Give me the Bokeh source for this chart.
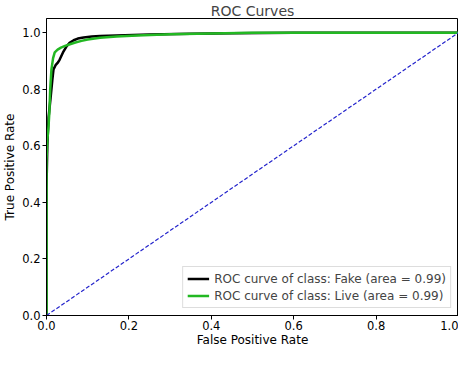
from bokeh.plotting import figure
from bokeh.models import Range1d, Legend, LegendItem, FixedTicker, NumeralTickFormatter
from bokeh.embed import file_html
from bokeh.resources import INLINE

# Fake class ROC (black)
fake_fpr = [0.0, 0.0, 0.002, 0.005, 0.010, 0.014, 0.017, 0.022, 0.028, 0.032, 0.040, 0.048,
            0.056, 0.066, 0.076, 0.090, 0.110, 0.130, 0.170, 0.250, 0.350, 0.450, 0.600, 1.0]
fake_tpr = [0.0, 0.45, 0.60, 0.70, 0.77, 0.83, 0.87, 0.885, 0.895, 0.905, 0.930, 0.950,
            0.964, 0.973, 0.979, 0.983, 0.986, 0.988, 0.990, 0.993, 0.996, 0.998, 1.0, 1.0]

# Live class ROC (green)
live_fpr = [0.0, 0.0, 0.002, 0.005, 0.007, 0.009, 0.012, 0.016, 0.020, 0.027, 0.035, 0.045,
            0.055, 0.070, 0.085, 0.100, 0.130, 0.170, 0.220, 0.300, 0.400, 0.500, 1.0]
live_tpr = [0.0, 0.55, 0.62, 0.67, 0.72, 0.80, 0.87, 0.91, 0.930, 0.940, 0.947, 0.953,
            0.958, 0.965, 0.971, 0.976, 0.982, 0.986, 0.990, 0.994, 0.997, 1.0, 1.0]

diag_x = [0.0, 1.0]
diag_y = [0.0, 1.0]

ticks = [0.0, 0.2, 0.4, 0.6, 0.8, 1.0]
labels = ["ROC curve of class: Fake (area = 0.99)", "ROC curve of class: Live (area = 0.99)"]

FONT = "DejaVu Sans"

p = figure(width=458, height=349, output_backend="svg", toolbar_location=None,
           x_range=Range1d(0, 1), y_range=Range1d(0, 1.05),
           title="ROC Curves", min_border_left=0, min_border_right=0,
           min_border_top=0, min_border_bottom=0)

p.title.align = "center"
p.title.text_font = FONT
p.title.text_font_size = "14px"
p.title.text_font_style = "normal"
p.title.text_line_height = 0.9
p.title.standoff = 0
p.title.offset = 0

p.xgrid.visible = False
p.ygrid.visible = False
p.outline_line_color = "black"
p.outline_line_width = 1
p.outline_line_alpha = 1

for ax in (p.xaxis, p.yaxis):
    ax.ticker = FixedTicker(ticks=ticks)
    ax.formatter = NumeralTickFormatter(format="0.0")
    ax.minor_tick_line_color = None
    ax.major_tick_out = 4
    ax.major_tick_in = 0
    ax.major_label_text_font = FONT
    ax.major_label_text_font_size = "11.5px"
    ax.major_label_text_color = "black"
    ax.axis_label_text_font = FONT
    ax.axis_label_text_font_size = "12px"
    ax.axis_label_text_font_style = "normal"
    ax.axis_label_text_color = "black"
    ax.axis_line_color = "black"
    ax.major_tick_line_color = "black"
    ax.axis_label_standoff = 2
    ax.major_label_standoff = 2

p.xaxis.axis_label_standoff = 0
p.xaxis.major_label_standoff = 1

p.xaxis.axis_label = "False Positive Rate"
p.yaxis.axis_label = "True Positive Rate"

r_fake = p.line(fake_fpr, fake_tpr, line_color="black", line_width=2.5)
r_live = p.line(live_fpr, live_tpr, line_color="#22b822", line_width=2.5)
p.line(diag_x, diag_y, line_color="#2424cc", line_width=1.2, line_dash="4 2")

legend = Legend(items=[LegendItem(label=labels[0], renderers=[r_fake]),
                       LegendItem(label=labels[1], renderers=[r_live])],
                location="bottom_right")
legend.label_text_font = FONT
legend.label_text_font_size = "12px"
legend.glyph_height = 15
legend.glyph_width = 22
legend.label_height = 15
legend.spacing = 2
legend.padding = 4
legend.margin = 7
legend.border_line_color = "#bbbbbb"
legend.border_line_width = 1
legend.background_fill_alpha = 0.9
p.add_layout(legend)

open("out.html", "w").write(file_html(p, INLINE))
